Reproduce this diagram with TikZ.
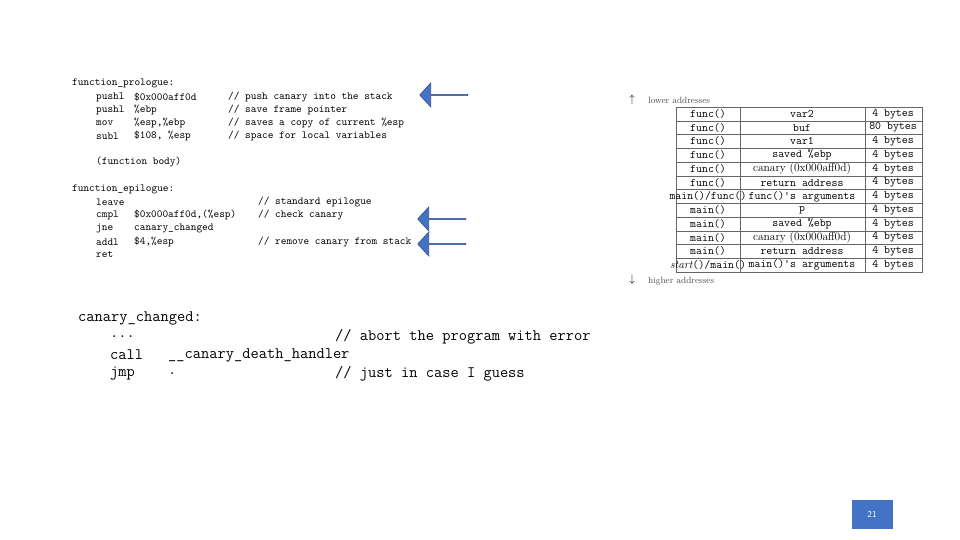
\documentclass[tikz,border=0pt]{standalone}
\usepackage{fontspec}
\usetikzlibrary{shapes.arrows}
\definecolor{arrblue}{HTML}{4472C4}
\definecolor{arredge}{HTML}{2F528F}
\begin{document}
\begin{tikzpicture}[x=1pt,y=-1pt,
  code/.style={anchor=west,inner sep=0pt,font=\ttfamily\fontsize{10.8}{12}\selectfont},
  big/.style={anchor=west,inner sep=0pt,font=\ttfamily\fontsize{16}{18}\selectfont},
  cell/.style={inner sep=0pt,font=\ttfamily\fontsize{11.5}{12}\selectfont},
  lbl/.style={anchor=west,inner sep=0pt,font=\fontsize{9}{10}\selectfont,text=black!70},
  barrow/.style={single arrow,shape border rotate=180,fill=arrblue,draw=arredge,line width=0.6pt,minimum height=48pt,minimum width=24pt,single arrow head extend=5.5pt,single arrow tip angle=95,inner sep=0pt}]
\useasboundingbox (0,0) rectangle (960,540);
% prologue
\node[code] (p0) at (72,83) {function\_prologue:};
\node[code] (pa1) at (96,97) {pushl};
\node[code] (pb1) at (134,97) {\$0x000aff0d};
\node[code] (pc1) at (228,97) {// push canary into the stack};
\node[code] (pa2) at (96,110) {pushl};
\node[code] (pb2) at (134,110) {\%ebp};
\node[code] (pc2) at (228,110) {// save frame pointer};
\node[code] (pa3) at (96,123) {mov};
\node[code] (pb3) at (134,123) {\%esp,\%ebp};
\node[code] (pc3) at (228,123) {// saves a copy of current \%esp};
\node[code] (pa4) at (96,136) {subl};
\node[code] (pb4) at (134,136) {\$108, \%esp};
\node[code] (pc4) at (228,136) {// space for local variables};
\node[code] (body) at (96,162) {(function body)};
\node[code] (e0) at (72,189) {function\_epilogue:};
\node[code] (ea1) at (96,202) {leave};
\node[code] (ec1) at (258,202) {// standard epilogue};
\node[code] (ea2) at (96,215) {cmpl};
\node[code] (eb2) at (134,215) {\$0x000aff0d,(\%esp)};
\node[code] (ec2) at (258,215) {// check canary};
\node[code] (ea3) at (96,228) {jne};
\node[code] (eb3) at (134,228) {canary\_changed};
\node[code] (ea4) at (96,242) {addl};
\node[code] (eb4) at (134,242) {\$4,\%esp};
\node[code] (ec4) at (258,242) {// remove canary from stack};
\node[code] (ea5) at (96,255) {ret};
% arrows
\node[barrow] (ar1) at (444,95) {};
\node[barrow] (ar2) at (442,219) {};
\node[barrow] (ar3) at (442,244) {};
% canary_changed
\node[big] (c0) at (78,318) {canary\_changed:};
\node[big] (c1a) at (110,337) {...};
\node[big] (c1c) at (335,337) {// abort the program with error};
\node[big] (c2a) at (110,355) {call};
\node[big] (c2b) at (168,355) {\_\_canary\_death\_handler};
\node[big] (c3a) at (110,374) {jmp};
\node[big] (c3b) at (168,374) {.};
\node[big] (c3c) at (335,374) {// just in case I guess};
% table
\node[inner sep=0pt,font=\fontsize{11}{11}\selectfont] (up) at (632,100) {$\uparrow$};
\node[lbl] (la) at (648,100) {lower addresses};
\node[inner sep=0pt,font=\fontsize{11}{11}\selectfont] (dn) at (632,280) {$\downarrow$};
\node[lbl] (ha) at (648,281) {higher addresses};
\draw[black!60,line width=0.4pt] (676,107) rectangle (922,272);
\foreach \k in {1,...,11}{\draw[black!60,line width=0.4pt] (676,107+\k*13.75) -- (922,107+\k*13.75);}
\draw[black!60,line width=0.4pt] (740,107) -- (740,272) (865,107) -- (865,272);
\newcommand\trow[4]{%
  \node[cell] (t#1a) at (708,{107+(#1-0.5)*13.75}) {#2};
  \node[cell] (t#1b) at (802,{107+(#1-0.5)*13.75}) {#3};
  \node[cell] (t#1c) at (893,{107+(#1-0.5)*13.75}) {#4};}
\trow{1}{func()}{var2}{4 bytes}
\trow{2}{func()}{buf}{80 bytes}
\trow{3}{func()}{var1}{4 bytes}
\trow{4}{func()}{saved \%ebp}{4 bytes}
\trow{5}{func()}{{\rmfamily canary (0x000aff0d)}}{4 bytes}
\trow{6}{func()}{return address}{4 bytes}
\trow{7}{main()/func()}{func()'s arguments}{4 bytes}
\trow{8}{main()}{p}{4 bytes}
\trow{9}{main()}{saved \%ebp}{4 bytes}
\trow{10}{main()}{{\rmfamily canary (0x000aff0d)}}{4 bytes}
\trow{11}{main()}{return address}{4 bytes}
\trow{12}{{\rmfamily\itshape start}()/main()}{main()'s arguments}{4 bytes}
% page number
\node[fill=arrblue,minimum width=41pt,minimum height=29pt,inner sep=0pt,text=white,font=\sffamily\fontsize{9}{10}\selectfont] (pg) at (872,514) {21};
\end{tikzpicture}
\end{document}
